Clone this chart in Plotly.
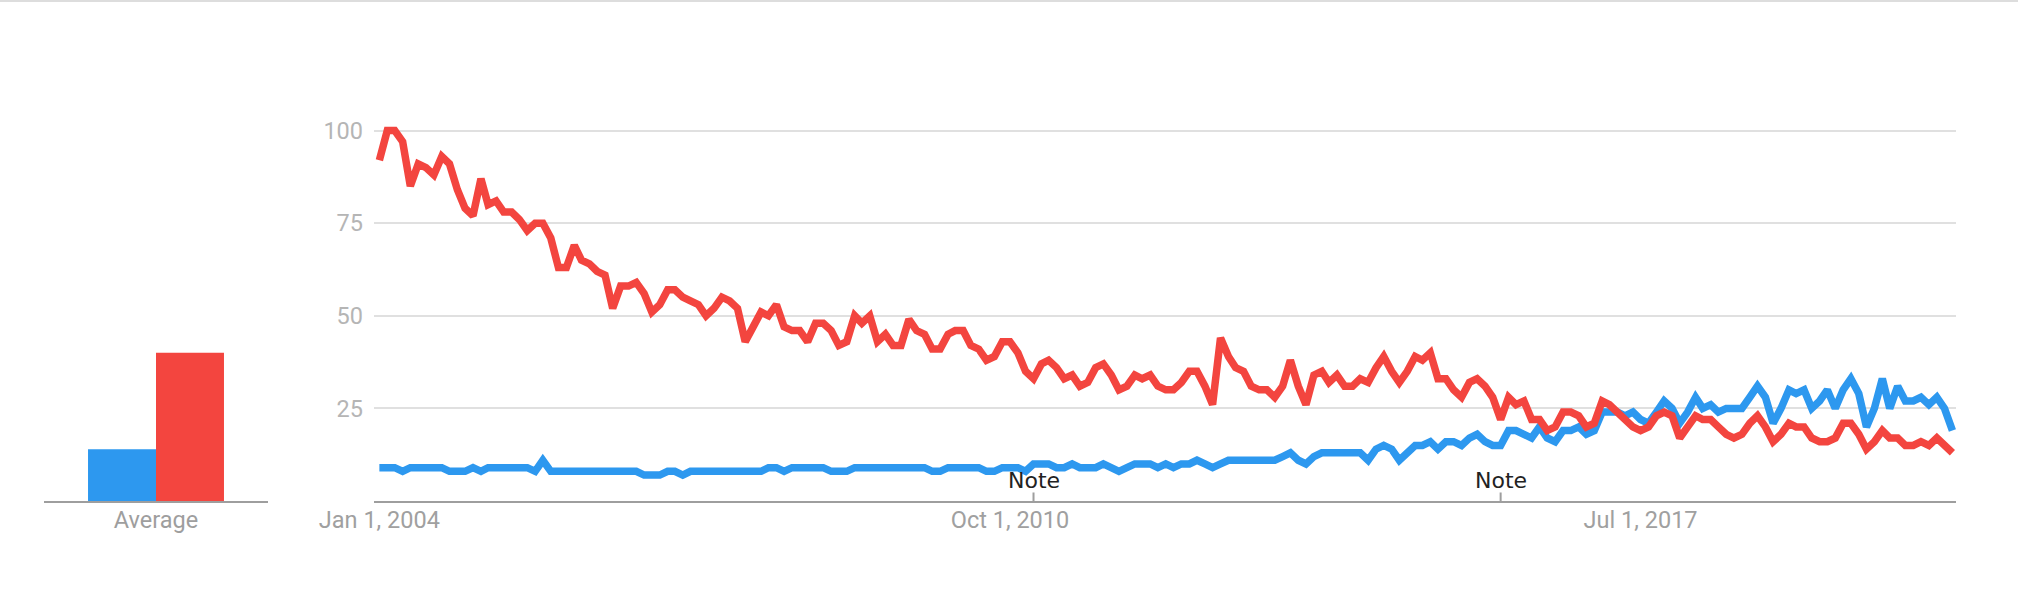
import pandas as pd
import plotly.graph_objects as go

# ---- data (monthly, Jan 2004 – Nov 2020) ----
start_month = "2004-01-01"
n_months = 203

red_values = [
    92, 100, 100, 97, 85, 91, 90, 88, 93, 91,
    84, 79, 77, 87, 80, 81, 78, 78, 76, 73,
    75, 75, 71, 63, 63, 69, 65, 64, 62, 61,
    52, 58, 58, 59, 56, 51, 53, 57, 57, 55,
    54, 53, 50, 52, 55, 54, 52, 43, 47, 51,
    50, 53, 47, 46, 46, 43, 48, 48, 46, 42,
    43, 50, 48, 50, 43, 45, 42, 42, 49, 46,
    45, 41, 41, 45, 46, 46, 42, 41, 38, 39,
    43, 43, 40, 35, 33, 37, 38, 36, 33, 34,
    31, 32, 36, 37, 34, 30, 31, 34, 33, 34,
    31, 30, 30, 32, 35, 35, 31, 26, 44, 39,
    36, 35, 31, 30, 30, 28, 31, 38, 31, 26,
    34, 35, 32, 34, 31, 31, 33, 32, 36, 39,
    35, 32, 35, 39, 38, 40, 33, 33, 30, 28,
    32, 33, 31, 28, 22, 28, 26, 27, 22, 22,
    19, 20, 24, 24, 23, 20, 21, 27, 26, 24,
    22, 20, 19, 20, 23, 24, 23, 17, 20, 23,
    22, 22, 20, 18, 17, 18, 21, 23, 20, 16,
    18, 21, 20, 20, 17, 16, 16, 17, 21, 21,
    18, 14, 16, 19, 17, 17, 15, 15, 16, 15,
    17, 15, 13,
]

blue_values = [
    9, 9, 9, 8, 9, 9, 9, 9, 9, 8,
    8, 8, 9, 8, 9, 9, 9, 9, 9, 9,
    8, 11, 8, 8, 8, 8, 8, 8, 8, 8,
    8, 8, 8, 8, 7, 7, 7, 8, 8, 7,
    8, 8, 8, 8, 8, 8, 8, 8, 8, 8,
    9, 9, 8, 9, 9, 9, 9, 9, 8, 8,
    8, 9, 9, 9, 9, 9, 9, 9, 9, 9,
    9, 8, 8, 9, 9, 9, 9, 9, 8, 8,
    9, 9, 9, 8, 10, 10, 10, 9, 9, 10,
    9, 9, 9, 10, 9, 8, 9, 10, 10, 10,
    9, 10, 9, 10, 10, 11, 10, 9, 10, 11,
    11, 11, 11, 11, 11, 11, 12, 13, 11, 10,
    12, 13, 13, 13, 13, 13, 13, 11, 14, 15,
    14, 11, 13, 15, 15, 16, 14, 16, 16, 15,
    17, 18, 16, 15, 15, 19, 19, 18, 17, 20,
    17, 16, 19, 19, 20, 18, 19, 24, 24, 24,
    23, 24, 22, 21, 24, 27, 25, 21, 24, 28,
    25, 26, 24, 25, 25, 25, 28, 31, 28, 21,
    25, 30, 29, 30, 25, 27, 30, 25, 30, 33,
    29, 20, 25, 33, 25, 31, 27, 27, 28, 26,
    28, 25, 19,
]

average_label = ["Average"]
blue_average = [14]
red_average = [40]

x_tick_dates = ["2004-01-01", "2010-10-01", "2017-07-01"]
x_tick_labels = ["Jan 1, 2004", "Oct 1, 2010", "Jul 1, 2017"]
y_tick_values = [25, 50, 75, 100]
note_dates = ["2011-01-01", "2016-01-01"]
note_text = "Note"

# ---- styling ----
BLUE = "#2D98EF"
RED = "#F3453F"
AXIS_GRAY = "#9e9e9e"
GRID_GRAY = "#e0e0e0"
FONT = "Roboto"
TICK_SIZE = 23.5
W, H = 2018, 608
M_TOP, M_BOT = 112, 107
LINE_W = 7.5

dates = pd.date_range(start_month, periods=n_months, freq="MS")

fig = go.Figure()
fig.add_trace(go.Scatter(x=dates, y=blue_values, mode="lines",
                         line=dict(color=BLUE, width=LINE_W), xaxis="x", yaxis="y",
                         showlegend=False))
fig.add_trace(go.Scatter(x=dates, y=red_values, mode="lines",
                         line=dict(color=RED, width=LINE_W), xaxis="x", yaxis="y",
                         showlegend=False))

fig.add_trace(go.Bar(x=average_label, y=blue_average, marker=dict(color=BLUE, line=dict(width=0)),
                     xaxis="x2", yaxis="y2", showlegend=False))
fig.add_trace(go.Bar(x=average_label, y=red_average, marker=dict(color=RED, line=dict(width=0)),
                     xaxis="x2", yaxis="y2", showlegend=False))

shapes = []
annotations = []
for d in note_dates:
    shapes.append(dict(type="line", xref="x", yref="y", x0=d, x1=d, y0=0, y1=2.3,
                       line=dict(color=AXIS_GRAY, width=2)))
    annotations.append(dict(x=d, y=5.6, xref="x", yref="y", text=note_text,
                            showarrow=False, yanchor="middle", xanchor="center",
                            font=dict(family="DejaVu Sans", size=22, color="#222222")))

plot_h = H - M_TOP - M_BOT
top_line_y = 1 + (M_TOP - 1) / plot_h
shapes.append(dict(type="line", xref="paper", yref="paper", x0=0, x1=1,
                   y0=top_line_y, y1=top_line_y, line=dict(color="#dddddd", width=2)))

fig.update_layout(
    width=W, height=H,
    margin=dict(l=0, r=0, t=M_TOP, b=M_BOT, autoexpand=False),
    paper_bgcolor="white", plot_bgcolor="white",
    font=dict(family=FONT),
    barmode="group", bargap=0.393, bargroupgap=0,
    shapes=shapes, annotations=annotations,
    xaxis=dict(domain=[374 / W, 1956 / W], type="date",
               range=["2003-12-11", "2020-11-15"],
               showgrid=False, zeroline=False, automargin=False,
               showline=True, linecolor=AXIS_GRAY, linewidth=2,
               tickvals=x_tick_dates, ticktext=x_tick_labels, ticks="",
               ticklabelstandoff=-3,
               tickfont=dict(family=FONT, size=TICK_SIZE, color="#a0a0a0"),
               anchor="y"),
    yaxis=dict(domain=[0, 1], range=[0, 105], tickvals=y_tick_values,
               showgrid=True, gridcolor=GRID_GRAY, gridwidth=2,
               zeroline=False, showline=False, ticks="", automargin=False,
               ticklabelstandoff=10,
               tickfont=dict(family=FONT, size=TICK_SIZE, color="#b5b5b5"),
               anchor="x"),
    xaxis2=dict(domain=[44 / W, 268 / W], type="category", range=[-0.5, 0.5],
                showline=True, linecolor=AXIS_GRAY, linewidth=2, automargin=False,
                showgrid=False, zeroline=False, ticks="",
                ticklabelstandoff=-3,
                tickfont=dict(family=FONT, size=TICK_SIZE, color=AXIS_GRAY),
                anchor="y2"),
    yaxis2=dict(domain=[0, 1], range=[0, 105], showgrid=False, zeroline=False,
                showline=False, showticklabels=False, automargin=False,
                anchor="x2"),
)

fig.write_html("out.html", config={"displayModeBar": False},
               post_script="document.body.style.margin='0px';")
